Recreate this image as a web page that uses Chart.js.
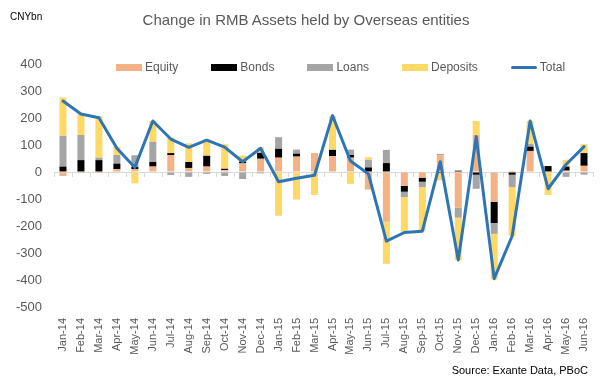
<!DOCTYPE html>
<html>
<head>
<meta charset="utf-8">
<script src="https://cdn.jsdelivr.net/npm/chart.js@4"></script>
<style>
  html, body { margin: 0; padding: 0; background: #fff; }
  #wrap { position: relative; width: 612px; height: 389px; font-family: "Liberation Sans", Arial, sans-serif; }
  #chart { position: absolute; left: 0; top: 0; }
  .unit { position: absolute; left: 10px; top: 11px; font-size: 10px; color: #000; }
  .title { position: absolute; left: 0; width: 612px; top: 11px; text-align: center; font-size: 15px; color: #595959; }
  .source { position: absolute; right: 24px; top: 364px; font-size: 11px; color: #000; }
  #legend { position: absolute; left: 116px; top: 60px; display: flex; align-items: center; font-size: 12px; color: #595959; }
  .item { display: flex; align-items: center; margin-right: 33px; }
  .swatch { width: 26px; margin-right: 3px; }
</style>
</head>
<body>
<div id="wrap">
  <canvas id="chart" width="612" height="389"></canvas>
  <div class="unit">CNYbn</div>
  <div class="title">Change in RMB Assets held by Overseas entities</div>
  <div id="legend"></div>
  <div class="source">Source: Exante Data, PBoC</div>
</div>
<script>
// Meses
const months = ['Jan-14', 'Feb-14', 'Mar-14', 'Apr-14', 'May-14', 'Jun-14', 'Jul-14', 'Aug-14', 'Sep-14', 'Oct-14', 'Nov-14', 'Dec-14',
    'Jan-15', 'Feb-15', 'Mar-15', 'Apr-15', 'May-15', 'Jun-15', 'Jul-15', 'Aug-15', 'Sep-15', 'Oct-15', 'Nov-15', 'Dec-15',
    'Jan-16', 'Feb-16', 'Mar-16', 'Apr-16', 'May-16', 'Jun-16'];

// Séries (CNYbn)
const equity = [-15, -4, -4, 11, 11, 20, 63, 15, 20, 7, 32, 49, 53, 57, 70, 59, 53, -65, -184, -51, -21, 62, -132, 137, -110, 4, 78, 0, 5, 23];
const bonds = [20, 44, 44, 20, 8, 17, 7, 22, 40, 5, 7, 22, 33, 11, 0, 23, 10, 17, 33, -22, -15, -4, 5, -10, -79, -10, 16, 22, 15, 47];
const loans = [114, 93, 9, 32, 43, 75, -11, -18, -7, -15, -26, -5, 43, 15, 0, 0, 20, 28, 49, -20, -20, 5, -37, -52, -40, -46, 10, 0, -18, -10];
const deposits = [142, 78, 154, 31, -42, 77, 58, 69, 62, 91, 22, 20, -162, -102, -85, 126, -44, 10, -156, -128, -163, -27, -158, 52, -169, -181, 85, -85, 25, 33];
const total = [263, 215, 201, 88, 17, 189, 122, 91, 118, 92, 38, 88, -36, -23, -12, 209, 41, -7, -256, -224, -219, 38, -326, 131, -395, -237, 189, -62, 28, 94];

// Eixo Y
const yMin = -500;
const yMax = 400;
const yStep = 100;

function barSet(label, data, color) {
    return {
        type: 'bar',
        label: label,
        data: data,
        backgroundColor: color,
        borderWidth: 0,
        stack: 'assets',
        barPercentage: 0.39,
        categoryPercentage: 1,
        order: 1
    };
}

// Pequenas marcas no eixo zero entre categorias
const zeroTicks = {
    id: 'zeroTicks',
    beforeDatasetsDraw(chart) {
        const x = chart.scales.x;
        const y0 = chart.scales.y.getPixelForValue(0);
        const ctx = chart.ctx;
        const step = (x.right - x.left) / months.length;
        ctx.save();
        ctx.strokeStyle = '#d9d9d9';
        ctx.lineWidth = 1;
        ctx.beginPath();
        for (let i = 0; i <= months.length; i++) {
            const px = Math.round(x.left + i * step) + 0.5;
            ctx.moveTo(px, y0);
            ctx.lineTo(px, y0 + 5);
        }
        ctx.stroke();
        ctx.restore();
    }
};

const chart = new Chart(document.getElementById('chart'), {
    data: {
        labels: months,
        datasets: [
            barSet('Equity', equity, '#f4b183'),
            barSet('Bonds', bonds, '#000000'),
            barSet('Loans', loans, '#a5a5a5'),
            barSet('Deposits', deposits, '#ffd966'),
            {
                type: 'line',
                label: 'Total',
                data: total,
                borderColor: '#2e75b6',
                backgroundColor: '#2e75b6',
                borderWidth: 3,
                pointRadius: 0,
                tension: 0,
                borderJoinStyle: 'round',
                borderCapStyle: 'round',
                stack: 'total',
                order: 0
            }
        ]
    },
    plugins: [zeroTicks],
    options: {
        responsive: false,
        animation: false,
        layout: { padding: { top: 64, right: 19, bottom: 30, left: 0 } },
        plugins: {
            legend: { display: false },
            title: { display: false },
            tooltip: { enabled: false }
        },
        scales: {
            x: {
                stacked: true,
                grid: { display: false },
                border: { display: false },
                ticks: {
                    autoSkip: false,
                    minRotation: 90,
                    maxRotation: 90,
                    padding: 3,
                    color: '#595959',
                    font: { family: '"Liberation Sans", Arial, sans-serif', size: 11 }
                },
                afterFit(scale) { scale.height = 52; }
            },
            y: {
                stacked: true,
                min: yMin,
                max: yMax,
                border: { display: false },
                grid: {
                    drawTicks: false,
                    color: ctx => ctx.tick && ctx.tick.value === 0 ? '#d9d9d9' : 'rgba(0,0,0,0)'
                },
                ticks: {
                    stepSize: yStep,
                    padding: 12,
                    color: '#595959',
                    font: { family: '"Liberation Sans", Arial, sans-serif', size: 13 }
                },
                afterFit(scale) { scale.width = 54; }
            }
        }
    }
});

// Legenda em HTML
function buildLegend() {
    const legend = document.getElementById('legend');
    legend.innerHTML = chart.data.datasets.map(ds => {
        const isLine = ds.type === 'line';
        const style = isLine
            ? `height:3px;border-radius:2px;background:${ds.borderColor}`
            : `height:7px;background:${ds.backgroundColor}`;
        return `<div class="item"><div class="swatch" style="${style}"></div><span>${ds.label}</span></div>`;
    }).join('');
}

buildLegend();
</script>
</body>
</html>
